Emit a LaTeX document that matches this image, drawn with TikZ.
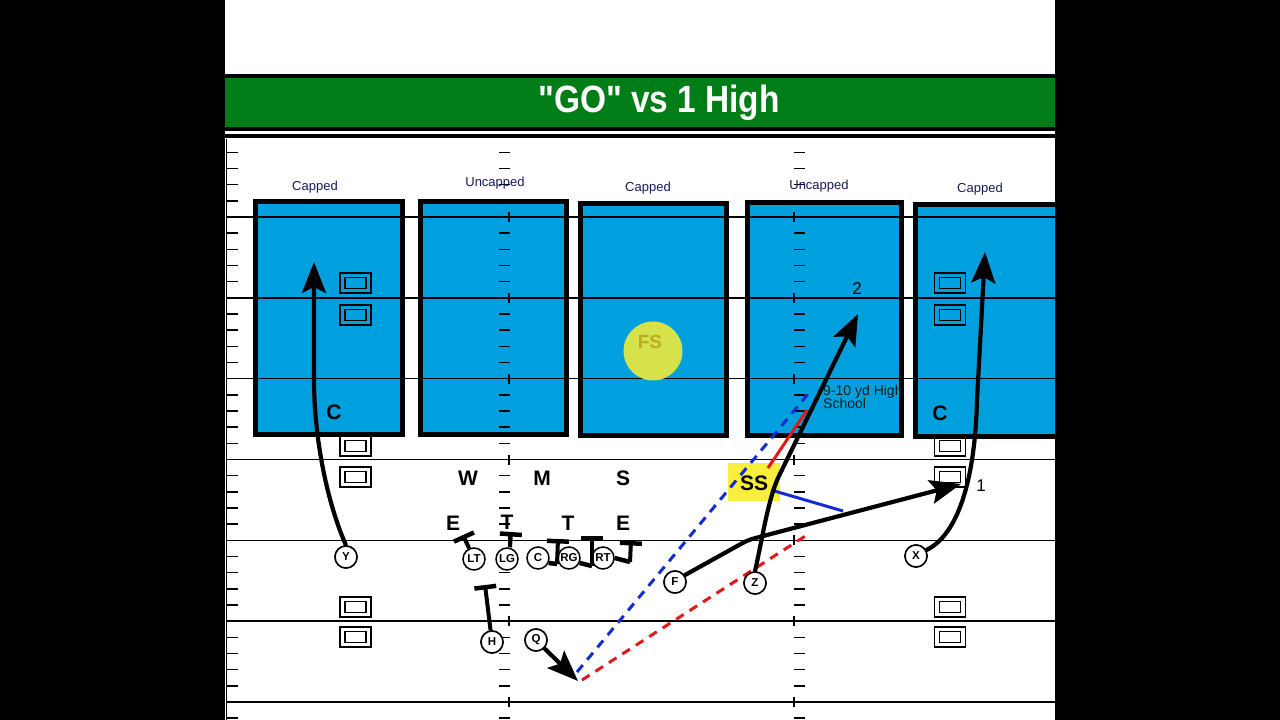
\documentclass[tikz,border=0pt]{standalone}
\usepackage{fontspec}
\setmainfont{Liberation Sans}
\newfontfamily\titlefont{Liberation Sans}
\usetikzlibrary{arrows.meta,calc}
\definecolor{zone}{RGB}{0,160,223}
\definecolor{titlegreen}{RGB}{0,125,22}
\definecolor{lblnavy}{RGB}{25,25,90}
\definecolor{fsfill}{RGB}{214,226,74}
\definecolor{fstext}{RGB}{185,172,40}
\definecolor{ssyellow}{RGB}{250,238,60}
\definecolor{lineblue}{RGB}{20,45,210}
\definecolor{linered}{RGB}{228,25,25}
\begin{document}
\begin{tikzpicture}[x=1pt,y=-1pt,
  yardln/.style={line width=1.5pt},
  tickln/.style={line width=1.4pt},
  zoneedge/.style={line width=5pt},
  caplbl/.style={text=lblnavy,font=\fontsize{13}{13}\selectfont,inner sep=0pt},
  deflbl/.style={font=\bfseries\fontsize{21}{21}\selectfont,inner sep=0pt},
  player/.style={circle,draw,line width=1.5pt,fill=white,minimum size=22pt,inner sep=0pt,font=\bfseries\fontsize{11.5}{11.5}\selectfont},
  route/.style={line width=4.2pt},
  arrowend/.style={-{Stealth[length=31pt,width=24pt,inset=6pt]}},
  blockln/.style={line width=4pt,-{Bar[width=22pt,line width=4.5pt]}},
  dashln/.style={line width=3pt,dash pattern=on 9pt off 7pt},
  solidln/.style={line width=3pt},
  stance/.pic={\draw[line width=1.6pt] (-15.5,-10) rectangle (15.5,10);
               \draw[line width=1.6pt] (-10.5,-5.5) rectangle (10.5,5.5);}
]
\useasboundingbox (0,0) rectangle (1280,720);
\fill[black] (0,0) rectangle (1280,720);
\fill[white] (225,0) rectangle (1055,720);
% title bar
\fill[black] (225,74) rectangle (1055,131);
\fill[titlegreen] (225,78) rectangle (1055,127);
\fill[black] (225,134) rectangle (1055,138);
\node[text=white,font=\titlefont\bfseries\fontsize{38}{38}\selectfont,xscale=0.88,inner sep=0pt] (title) at (659,103) {"GO" vs 1 High};
% zone fills
\begin{scope}
\clip (225,139) rectangle (1055,720);
\fill[zone] (255.5,201.5) rectangle (402.5,434.5);
\fill[zone] (420.5,201.5) rectangle (566.5,434.5);
\fill[zone] (580.5,203.5) rectangle (726.5,435.5);
\fill[zone] (747.5,202.5) rectangle (901.5,435.5);
\fill[zone] (915.5,204.5) rectangle (1075,436.5);
% field lines
\draw[line width=1.5pt] (226.5,139) -- (226.5,720);
\foreach \i in {0,...,6}{
  \draw[yardln] (227,{217+\i*80.833}) -- (1055,{217+\i*80.833});
}
\foreach \i in {-4,...,31}{
  \pgfmathsetmacro\yy{217+\i*16.1667}
  \pgfmathtruncatemacro\m{mod(\i+10,5)}
  \ifnum\m=0
    \draw[tickln] (509,{\yy-5}) -- (509,{\yy+5});
    \draw[tickln] (794,{\yy-5}) -- (794,{\yy+5});
  \else
    \draw[tickln] (227,\yy) -- (238,\yy);
    \draw[tickln] (499,\yy) -- (510,\yy);
    \draw[tickln] (794,\yy) -- (805,\yy);
  \fi
}
% zone borders
\draw[zoneedge] (255.5,201.5) rectangle (402.5,434.5);
\draw[zoneedge] (420.5,201.5) rectangle (566.5,434.5);
\draw[zoneedge] (580.5,203.5) rectangle (726.5,435.5);
\draw[zoneedge] (747.5,202.5) rectangle (901.5,435.5);
\draw[zoneedge] (915.5,204.5) rectangle (1075,436.5);
\end{scope}
% zone labels
\node[caplbl] (capa) at (315,187) {Capped};
\node[caplbl] (capb) at (495,183) {Uncapped};
\node[caplbl] (capc) at (648,188) {Capped};
\node[caplbl] (capd) at (819,186) {Uncapped};
\node[caplbl] (cape) at (980,189) {Capped};
% stance boxes
\foreach \yy in {283,315,446,477,607,637}{
  \pic at (355.5,\yy) {stance};
  \pic at (950,\yy) {stance};
}
% free safety
\node[circle,fill=fsfill,minimum size=59pt,inner sep=0pt] (fs) at (653,351) {};
\node[text=fstext,font=\bfseries\fontsize{19}{19}\selectfont,inner sep=0pt] (fst) at (650,342) {FS};
% strong safety
\node[fill=ssyellow,minimum width=52pt,minimum height=38pt,inner sep=0pt] (ss) at (754,482) {};
\node[deflbl] (sst) at (754,483) {SS};
% defenders
\node[deflbl] (cl) at (334,412) {C};
\node[deflbl] (cr) at (940,413) {C};
\node[deflbl] (dw) at (468,478) {W};
\node[deflbl] (dm) at (542,478) {M};
\node[deflbl] (ds) at (623,478) {S};
\node[deflbl] (de1) at (453,523) {E};
\node[deflbl] (dt1) at (507,522) {T};
\node[deflbl] (dt2) at (568,523) {T};
\node[deflbl] (de2) at (623,523) {E};
% text labels
\node[anchor=west,align=left,font=\fontsize{14}{13.5}\selectfont,text=black!90,inner sep=0pt] (hs) at (823,397) {9-10 yd High\\School};
\node[font=\fontsize{17}{17}\selectfont,inner sep=0pt] (two) at (857,289) {2};
\node[font=\fontsize{17}{17}\selectfont,inner sep=0pt] (one) at (981,486) {1};
% coordinates
\coordinate (bd1) at (577,672);
\coordinate (bd2) at (808,394);
\coordinate (rd1) at (582,680);
\coordinate (rd2) at (810,533);
\coordinate (rs1) at (768,468);
\coordinate (rs2) at (807,410);
\coordinate (bs1) at (771,490);
\coordinate (bs2) at (843,511);
\coordinate (ytip) at (314,262);
\coordinate (xtip) at (985,252);
\coordinate (ztip) at (858,314);
\coordinate (ftip) at (961,484);
\coordinate (qtip) at (578,681);
% offense
\node[player] (y) at (346,557) {Y};
\node[player] (x) at (916,556) {X};
\node[player] (f) at (675,582) {F};
\node[player] (z) at (755,583) {Z};
\node[player] (h) at (492,642) {H};
\node[player] (q) at (536,640) {Q};
\node[player] (lt) at (474,559) {LT};
\node[player] (lg) at (507,559) {LG};
\node[player] (c) at (538,558) {C};
\node[player] (rg) at (569,558) {RG};
\node[player] (rt) at (603,558) {RT};
% reads
\draw[dashln,lineblue] (bd1) -- (bd2);
\draw[dashln,linered] (rd1) -- (rd2);
\draw[solidln,linered] (rs1) -- (rs2);
\draw[solidln,lineblue] (bs1) -- (bs2);
% blocks
\draw[blockln] (lt) -- (463,535);
\draw[blockln] (lg.north) ++(3,0) -- (511,532);
\draw[line width=4.5pt] (c.-25) -- (557,564);
\draw[blockln] (557,564) -- (558,539);
\draw[line width=4.5pt] (rg.-25) -- (592,566);
\draw[blockln] (592,566) -- (592,536);
\draw[line width=4.5pt] (rt.east) -- (630,562);
\draw[blockln] (630,562) -- (631,541);
\draw[blockln] (h) -- (485,585);
% routes
\draw[route,arrowend] (y.north) .. controls (328,505) and (314,440) .. (314,380) -- (ytip);
\draw[route,arrowend] (x.30) .. controls (958,535) and (975,480) .. (977,400) -- (xtip);
\draw[route,arrowend] (z.north) .. controls (762,540) and (768,500) .. (778,478) -- (ztip);
\draw[route,arrowend,rounded corners=6pt] (f.35) -- (748,540) -- (ftip);
\draw[route,arrowend] (q.-45) -- (qtip);
% player circles above routes
\foreach \n/\t in {y/Y,x/X,f/F,z/Z,h/H,q/Q}{
  \node[player] at (\n) {\t};
}
\end{tikzpicture}
\end{document}
